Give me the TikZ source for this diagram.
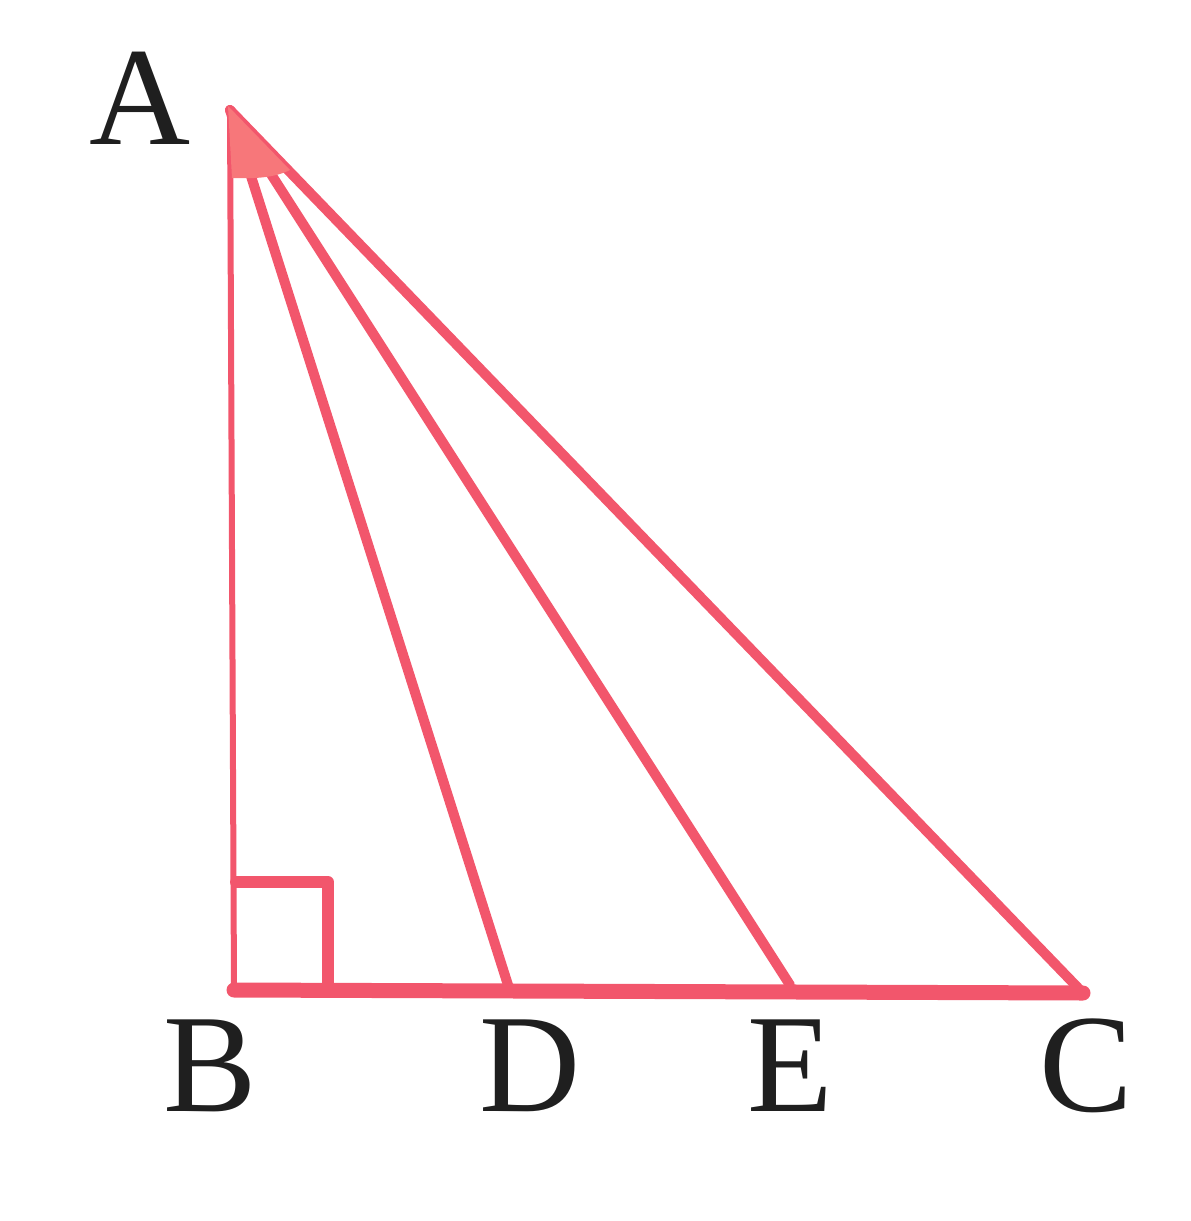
\documentclass[tikz,border=0pt]{standalone}
\usepackage{fontspec}
\setmainfont{Liberation Serif}
\definecolor{seg}{HTML}{F2566C}
\definecolor{blob}{HTML}{F7777A}
\begin{document}
\begin{tikzpicture}[x=1pt,y=-1pt,
  seg/.style={draw=seg,line cap=round,line join=round},
  lbl/.style={font=\fontsize{140}{140}\selectfont,text=black!88,inner sep=0pt}]
\useasboundingbox (0,0) rectangle (1191,1221);
\coordinate (A) at (230,110);
\coordinate (B) at (234,990);
\coordinate (C) at (1083,993);
\coordinate (D) at (508,985);
\coordinate (E) at (790,985);
\coordinate (S1) at (236,882);
\coordinate (S2) at (328,882);
\coordinate (S3) at (328,990);
\draw[seg,line width=6pt] (A) -- (B);
\draw[seg,line width=10pt] (A) -- (D);
\draw[seg,line width=10pt] (A) -- (E);
\draw[seg,line width=10pt] (A) -- (C);
\draw[seg,line width=15pt] (B) -- (C);
\draw[seg,line width=12pt] (S1) -- (S2) -- (S3);
\fill[blob] (228,106) -- (290,170) .. controls (270,180) and (245,178) .. (232,178) -- cycle;
\node[lbl] (lA) at (140,98) {A};
\node[lbl] (lB) at (210,1066) {B};
\node[lbl] (lD) at (530,1066) {D};
\node[lbl] (lE) at (790,1066) {E};
\node[lbl] (lC) at (1086,1066) {C};
\end{tikzpicture}
\end{document}
